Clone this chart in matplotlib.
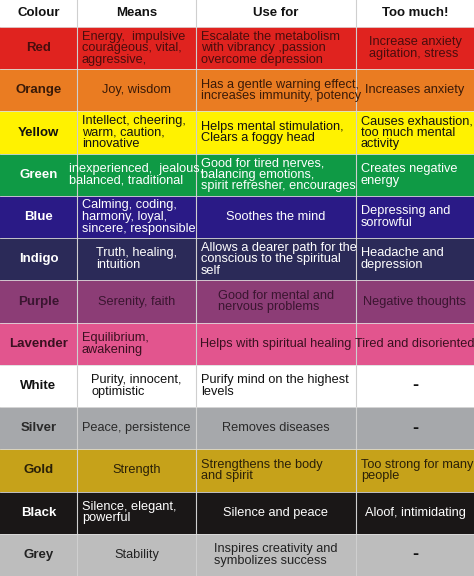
import matplotlib
matplotlib.use("Agg")
import matplotlib.pyplot as plt
from matplotlib.patches import Rectangle

plt.rcParams['font.family'] = ['Liberation Sans', 'DejaVu Sans']

headers = ["Colour", "Means", "Use for", "Too much!"]
colours = ["Red", "Orange", "Yellow", "Green", "Blue", "Indigo", "Purple",
           "Lavender", "White", "Silver", "Gold", "Black", "Grey"]
means = ["Energy,  impulsive\ncourageous, vital,\naggressive,", "Joy, wisdom",
         "Intellect, cheering,\nwarm, caution,\ninnovative",
         "inexperienced,  jealous,\nbalanced, traditional",
         "Calming, coding,\nharmony, loyal,\nsincere, responsible",
         "Truth, healing,\nintuition", "Serenity, faith", "Equilibrium,\nawakening",
         "Purity, innocent,\noptimistic", "Peace, persistence", "Strength",
         "Silence, elegant,\npowerful", "Stability"]
use_for = ["Escalate the metabolism\nwith vibrancy ,passion\novercome depression",
           "Has a gentle warning effect,\nincreases immunity, potency",
           "Helps mental stimulation,\nClears a foggy head",
           "Good for tired nerves,\nbalancing emotions,\nspirit refresher, encourages",
           "Soothes the mind",
           "Allows a dearer path for the\nconscious to the spiritual\nself",
           "Good for mental and\nnervous problems", "Helps with spiritual healing",
           "Purify mind on the highest\nlevels", "Removes diseases",
           "Strengthens the body\nand spirit", "Silence and peace",
           "Inspires creativity and\nsymbolizes success"]
too_much = ["Increase anxiety\nagitation, stress", "Increases anxiety",
            "Causes exhaustion,\ntoo much mental\nactivity", "Creates negative\nenergy",
            "Depressing and\nsorrowful", "Headache and\ndepression", "Negative thoughts",
            "Tired and disoriented", "-", "-", "Too strong for many\npeople",
            "Aloof, intimidating", "-"]

bg = ["#e0231f", "#ea7c22", "#fff200", "#0f9a45", "#2a1a86", "#2b2a58", "#8c3d76",
      "#e2558e", "#ffffff", "#a6a8ab", "#c6a21a", "#1a1717", "#bdbdbd"]
fg = ["#4a0d0d", "#3a1a08", "#111111", "#ffffff", "#ffffff", "#ffffff", "#3a1530",
      "#3a1020", "#111111", "#2a2a2a", "#2a2008", "#ffffff", "#222222"]
al_means = ["l", "c", "l", "c", "l", "c", "c", "l", "c", "c", "c", "l", "c"]
al_use = ["l", "l", "l", "l", "c", "l", "c", "c", "l", "c", "l", "c", "c"]
al_too = ["c", "c", "l", "l", "l", "l", "c", "c", "c", "c", "l", "c", "c"]

W, H = 474, 576
fig = plt.figure(figsize=(4.74, 5.76), dpi=100)
ax = fig.add_axes([0, 0, 1, 1])
ax.set_xlim(0, W); ax.set_ylim(H, 0); ax.axis("off")

cols = [0, 77, 196, 356, 474]
hdr = 27
rh = (H - hdr) / len(colours)

for j, h in enumerate(headers):
    ax.text((cols[j] + cols[j+1]) / 2, hdr / 2, h, ha="center", va="center",
            fontsize=9.5, fontweight="bold", color="#111111")

for i, c in enumerate(colours):
    y0 = hdr + i * rh
    ax.add_patch(Rectangle((0, y0), W, rh, facecolor=bg[i], edgecolor="none"))
    ym = y0 + rh / 2
    ax.text((cols[0] + cols[1]) / 2, ym, c, ha="center", va="center",
            fontsize=9.5, fontweight="bold", color=fg[i])
    for j, (txt, al) in enumerate([(means[i], al_means[i]), (use_for[i], al_use[i]),
                                   (too_much[i], al_too[i])], start=1):
        if txt == "-":
            ax.text((cols[j] + cols[j+1]) / 2, ym, "-", ha="center", va="center",
                    fontsize=13, fontweight="bold", color="#111111")
            continue
        if al == "l":
            x = cols[j] + 5; ha = "left"
        else:
            x = (cols[j] + cols[j+1]) / 2; ha = "center"
        ax.text(x, ym, txt, ha=ha, va="center", fontsize=9.2, color=fg[i],
                linespacing=0.95, multialignment="left")

for x in cols[1:-1]:
    ax.plot([x, x], [0, H], color="#cfcfcf", lw=0.8)
for i in range(len(colours) + 1):
    y = hdr + i * rh
    ax.plot([0, W], [y, y], color="#dddddd", lw=0.6)

fig.savefig("out.png", dpi=100)
